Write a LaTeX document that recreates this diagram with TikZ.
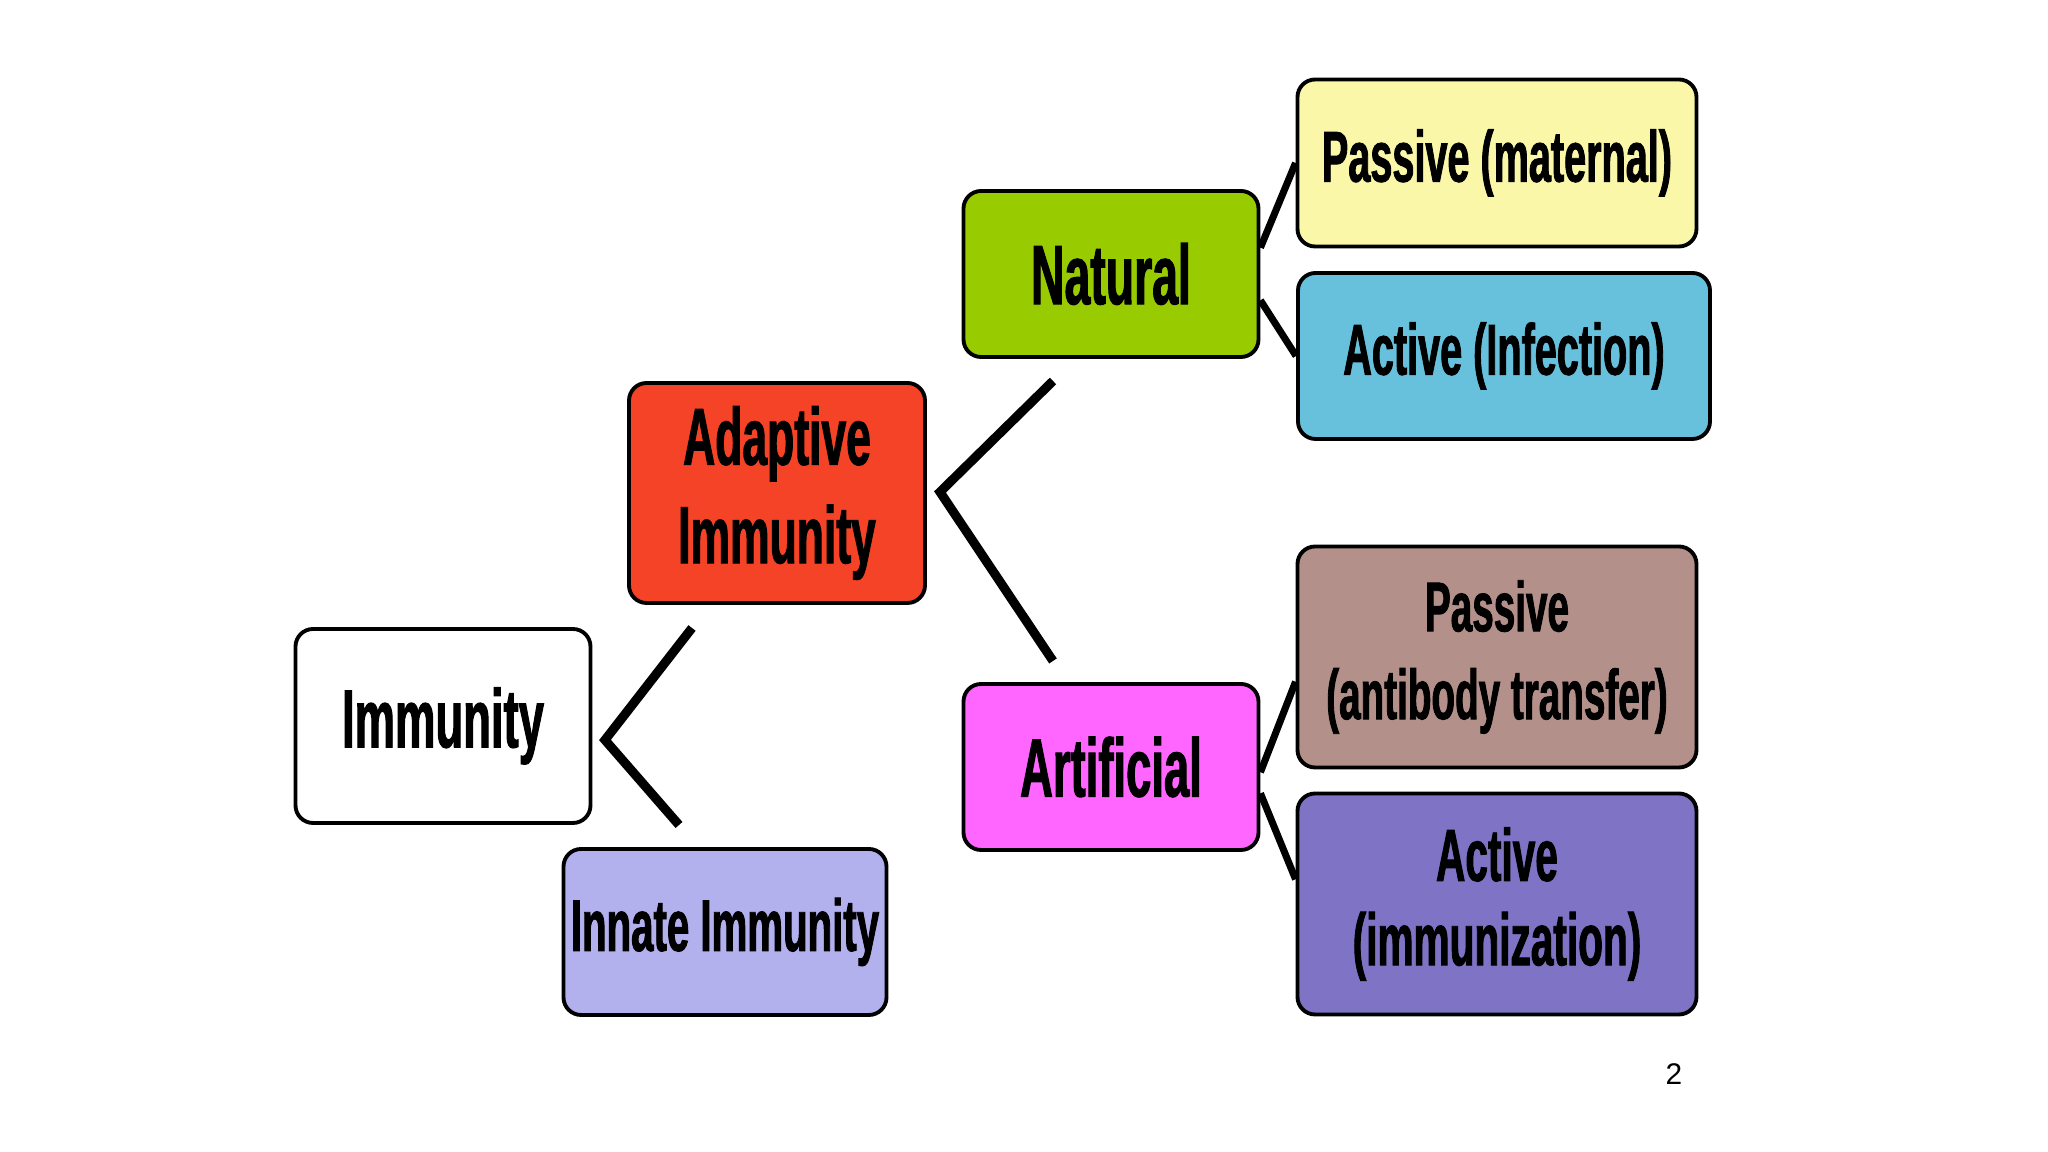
\documentclass[tikz,border=0pt]{standalone}
\usepackage{fontspec}
\setmainfont{Liberation Sans}
\newfontfamily\narrowbold[FakeStretch=0.55,FakeBold=1.2]{Liberation Sans}
\definecolor{ImmWhite}{HTML}{FFFFFF}
\definecolor{ImmInnate}{HTML}{B3B0EE}
\definecolor{ImmAdaptive}{HTML}{F44326}
\definecolor{ImmNatural}{HTML}{99CC00}
\definecolor{ImmArtificial}{HTML}{FF66FF}
\definecolor{ImmPassMat}{HTML}{FAF8A8}
\definecolor{ImmActInf}{HTML}{67C1DD}
\definecolor{ImmPassAb}{HTML}{B3918A}
\definecolor{ImmActImm}{HTML}{7E73C5}

\begin{document}
\begin{tikzpicture}[ImmBox/.style={draw=black,line width=1.1pt,rounded corners=5pt,text=black,align=center,inner sep=0pt},
  ImmFork/.style={line width=2.6pt},
  ImmTwig/.style={line width=2pt}]
  \useasboundingbox (0,0) rectangle (20.48,11.52);
  % boxes
  \node[ImmBox,fill=ImmWhite,minimum width=29.5mm,minimum height=19.4mm,font=\narrowbold\bfseries\fontsize{23.5}{28}\selectfont] (immunity) at (4.43,4.26) {Immunity};
  \node[ImmBox,fill=ImmInnate,minimum width=32.3mm,minimum height=16.6mm,font=\narrowbold\bfseries\fontsize{20.8}{26}\selectfont] (innate) at (7.25,2.20) {Innate Immunity};
  \node[ImmBox,fill=ImmAdaptive,minimum width=29.6mm,minimum height=22mm,font=\narrowbold\bfseries\fontsize{23}{28}\selectfont] (adaptive) at (7.77,6.59) {Adaptive\\Immunity};
  \node[ImmBox,fill=ImmNatural,minimum width=29.5mm,minimum height=16.6mm,font=\narrowbold\bfseries\fontsize{24}{28}\selectfont] (natural) at (11.11,8.78) {Natural};
  \node[ImmBox,fill=ImmArtificial,minimum width=29.5mm,minimum height=16.6mm,font=\narrowbold\bfseries\fontsize{23.5}{28}\selectfont] (artificial) at (11.11,3.85) {Artificial};
  \node[ImmBox,fill=ImmPassMat,minimum width=39.9mm,minimum height=16.7mm,font=\narrowbold\bfseries\fontsize{20.5}{25}\selectfont] (passmat) at (14.97,9.89) {Passive (maternal)};
  \node[ImmBox,fill=ImmActInf,minimum width=41.2mm,minimum height=16.6mm,font=\narrowbold\bfseries\fontsize{20.5}{25}\selectfont] (actinf) at (15.04,7.96) {Active (Infection)};
  \node[ImmBox,fill=ImmPassAb,minimum width=39.9mm,minimum height=22.1mm,font=\narrowbold\bfseries\fontsize{20}{25}\selectfont] (passab) at (14.97,4.95) {Passive\\(antibody transfer)};
  \node[ImmBox,fill=ImmActImm,minimum width=39.9mm,minimum height=22.1mm,font=\narrowbold\bfseries\fontsize{21}{24}\selectfont] (actimm) at (14.97,2.48) {Active\\(immunization)};
  \node[font=\fontsize{8.5}{10}\selectfont] (pagenum) at (16.74,0.78) {2};
  % forks
  \coordinate (immtop) at (6.92,5.24);
  \coordinate (immfork) at (6.05,4.12);
  \coordinate (immbot) at (6.79,3.27);
  \coordinate (adtop) at (10.53,7.71);
  \coordinate (adfork) at (9.40,6.60);
  \coordinate (adbot) at (10.53,4.91);
  \draw[ImmFork] (immtop) -- (immfork) -- (immbot);
  \draw[ImmFork] (adtop) -- (adfork) -- (adbot);
  \draw[ImmTwig] (natural.10) -- (passmat.west);
  \draw[ImmTwig] (natural.-10) -- (actinf.west);
  \draw[ImmTwig] (artificial.-2) -- (passab.-173);
  \draw[ImmTwig] (artificial.-10) -- (actimm.173);
\end{tikzpicture}
\end{document}
